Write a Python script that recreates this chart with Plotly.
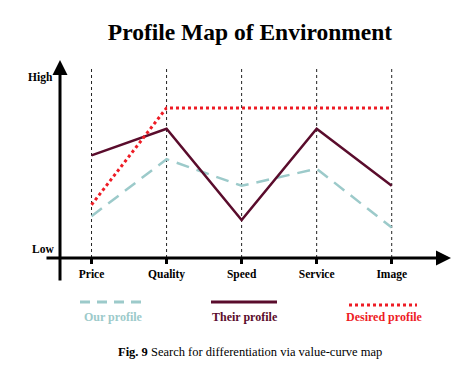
import plotly.graph_objects as go

categories = ["Price", "Quality", "Speed", "Service", "Image"]
our_profile = [2.2, 5.2, 3.8, 4.7, 1.6]
their_profile = [5.4, 6.8, 2.0, 6.8, 3.8]
desired_profile = [2.8, 7.9, 7.9, 7.9, 7.9]
y_top = 10

OUR = "#9ccaca"
THEIR = "#5a0c2c"
DESIRED = "#ee1c25"
SERIF = "Liberation Serif"

fig = go.Figure()

# vertical dotted guide lines at each category
gx, gy = [], []
for c in categories:
    gx += [c, c, None]
    gy += [0, y_top, None]
fig.add_trace(go.Scatter(x=gx, y=gy, mode="lines", line=dict(color="#222", width=1, dash="dot"),
                         hoverinfo="skip", showlegend=False))

fig.add_trace(go.Scatter(x=categories, y=our_profile, mode="lines", name="Our profile",
                         line=dict(color=OUR, width=2.5, dash="13px,8px")))
fig.add_trace(go.Scatter(x=categories, y=their_profile, mode="lines", name="Their profile",
                         line=dict(color=THEIR, width=2.5)))
fig.add_trace(go.Scatter(x=categories, y=desired_profile, mode="lines", name="Desired profile",
                         line=dict(color=DESIRED, width=3, dash="dot")))

OFF = 8  # page body margin
W, H = 474 - OFF, 374 - OFF
L, R, T, B = 60 - OFF, 31 - OFF, 60 - OFF, 116
pw, ph = W - L - R, H - T - B
base = T + ph  # pixel y of axis in figure coords


def px(x):
    return (x - OFF - L) / pw


def py(y):
    return (base - (y - OFF)) / ph


fig.update_layout(
    width=W, height=H,
    margin=dict(l=L, r=R, t=T, b=B),
    paper_bgcolor="white", plot_bgcolor="white",
    showlegend=False,
    title=dict(text="<b>Profile Map of Environment</b>", x=(250 - OFF) / W, xanchor="center",
               y=1 - (32 - OFF) / H, yanchor="middle",
               font=dict(family=SERIF, size=23.5, color="black")),
    xaxis=dict(type="category", categoryarray=categories, range=[-0.42, 4.79],
               showgrid=False, zeroline=False, showline=False,
               ticks="outside", ticklen=5, tickwidth=3, tickcolor="black",
               tickfont=dict(family=SERIF, size=11.5, color="black"),
               tickprefix="<b>", ticksuffix="</b>", fixedrange=True),
    yaxis=dict(range=[0, 10.42], showgrid=False, zeroline=False, showline=False,
               showticklabels=False, ticks="", fixedrange=True),
)

# axes with arrows
fig.add_annotation(x=0, y=1, xref="paper", yref="paper", ax=0, ay=222, axref="pixel", ayref="pixel",
                   showarrow=True, arrowhead=2, arrowsize=1, arrowwidth=3, arrowcolor="black", text="")
fig.add_annotation(x=1, y=0, xref="paper", yref="paper", ax=-406, ay=0, axref="pixel", ayref="pixel",
                   showarrow=True, arrowhead=2, arrowsize=1, arrowwidth=3, arrowcolor="black", text="")


def label(x, y, text, size=11.5, color="black"):
    fig.add_annotation(x=px(x), y=py(y), xref="paper", yref="paper", text=text, showarrow=False,
                       xanchor="center", yanchor="middle",
                       font=dict(family=SERIF, size=size, color=color))


label(40, 77, "<b>High</b>")
label(43, 249, "<b>Low</b>")

# legend samples
fig.add_shape(type="line", xref="paper", yref="paper", x0=px(80), x1=px(145), y0=py(302), y1=py(302),
              line=dict(color=OUR, width=3, dash="10px,7px"))
fig.add_shape(type="line", xref="paper", yref="paper", x0=px(211), x1=px(277), y0=py(302), y1=py(302),
              line=dict(color=THEIR, width=3))
fig.add_shape(type="line", xref="paper", yref="paper", x0=px(349), x1=px(417), y0=py(305), y1=py(305),
              line=dict(color=DESIRED, width=3, dash="dot"))

for text, cx, col in [("Our profile", 113, OUR), ("Their profile", 245, THEIR), ("Desired profile", 384, DESIRED)]:
    label(cx, 317, f"<b>{text}</b>", size=12, color=col)

label(250, 352, "<b>Fig. 9</b> Search for differentiation via value-curve map", size=12.5)

fig.write_html("out.html")
